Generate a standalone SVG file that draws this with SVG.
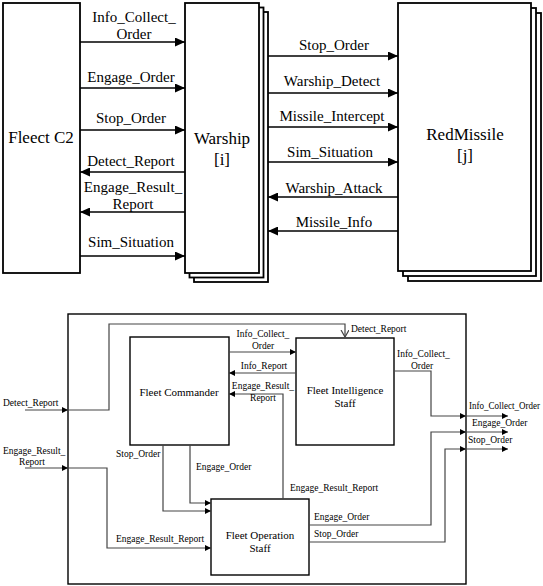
<svg xmlns="http://www.w3.org/2000/svg" width="543" height="586" viewBox="0 0 543 586">
<style>
.bg{fill:#ffffff}
.box{fill:#ffffff;stroke:#000;stroke-width:1.8}
.bbox{fill:#ffffff;stroke:#000;stroke-width:1.4}
.t{font-family:"Liberation Serif","Times New Roman",serif;fill:#000}
.big{font-size:17px}
.lbl{font-size:15px}
.sm{font-size:9.5px}
.nm{font-size:11px}
.ar{fill:none;stroke:#000;stroke-width:1.5;marker-end:url(#ah)}
.cn{fill:none;stroke:#444;stroke-width:1.2}
.ca{fill:none;stroke:#444;stroke-width:1.2;marker-end:url(#sh)}
</style>
<defs>
<marker id="ah" markerUnits="userSpaceOnUse" markerWidth="11" markerHeight="9" refX="10" refY="4.5" orient="auto">
<path d="M0,0 L10,4.5 L0,9 z" fill="#000"/>
</marker>
<marker id="sh" markerUnits="userSpaceOnUse" markerWidth="7" markerHeight="6" refX="6" refY="3" orient="auto">
<path d="M0,0 L6,3 L0,6 z" fill="#000"/>
</marker>
<marker id="vh" markerUnits="userSpaceOnUse" markerWidth="9" markerHeight="9" refX="7" refY="4" orient="auto">
<path d="M0,0 L7,4 L0,8" fill="none" stroke="#444" stroke-width="1.2"/>
</marker>
</defs>
<rect class="bg" x="0" y="0" width="543" height="586"/>

<!-- Top section -->
<g id="fleect-c2">
<rect class="box" x="3" y="3" width="77" height="270"/>
<text class="t big" x="41" y="143" text-anchor="middle">Fleect C2</text>
</g>
<g id="warship">
<rect class="box" x="194" y="12" width="74" height="270"/>
<rect class="box" x="189.5" y="7.5" width="74" height="270"/>
<rect class="box" x="185" y="3" width="74" height="270"/>
<text class="t big" x="222" y="144" text-anchor="middle">Warship</text>
<text class="t big" x="222" y="165" text-anchor="middle">[i]</text>
</g>
<g id="redmissile">
<rect class="box" x="408" y="13" width="133" height="268"/>
<rect class="box" x="403" y="8" width="133" height="268"/>
<rect class="box" x="398" y="3" width="133" height="268"/>
<text class="t big" x="465" y="140" text-anchor="middle">RedMissile</text>
<text class="t big" x="465" y="161" text-anchor="middle">[j]</text>
</g>

<g id="top-connectors">
<line class="ar" x1="80" y1="42" x2="185" y2="42"/>
<line class="ar" x1="80" y1="88" x2="185" y2="88"/>
<line class="ar" x1="80" y1="130" x2="185" y2="130"/>
<line class="ar" x1="185" y1="172" x2="80" y2="172"/>
<line class="ar" x1="185" y1="212" x2="80" y2="212"/>
<line class="ar" x1="80" y1="256" x2="185" y2="256"/>
<line class="ar" x1="268" y1="56" x2="398" y2="56"/>
<line class="ar" x1="268" y1="93" x2="398" y2="93"/>
<line class="ar" x1="268" y1="127" x2="398" y2="127"/>
<line class="ar" x1="268" y1="162" x2="398" y2="162"/>
<line class="ar" x1="398" y1="197" x2="268" y2="197"/>
<line class="ar" x1="398" y1="231" x2="268" y2="231"/>
<g class="t lbl" text-anchor="middle">
<text x="134" y="22">Info_Collect_</text>
<text x="134" y="39">Order</text>
<text x="131" y="82">Engage_Order</text>
<text x="131" y="123">Stop_Order</text>
<text x="131" y="166">Detect_Report</text>
<text x="133" y="192">Engage_Result_</text>
<text x="133" y="209">Report</text>
<text x="131" y="247">Sim_Situation</text>
<text x="334" y="50">Stop_Order</text>
<text x="332" y="86">Warship_Detect</text>
<text x="332" y="121">Missile_Intercept</text>
<text x="330" y="157">Sim_Situation</text>
<text x="334" y="193">Warship_Attack</text>
<text x="334" y="227">Missile_Info</text>
</g>
</g>

<!-- Bottom section -->
<rect id="frame" class="bbox" x="68" y="314" width="398" height="270" fill="none"/>
<g id="fleet-commander">
<rect class="bbox" x="130" y="337" width="99" height="108"/>
<text class="t nm" x="179" y="396" text-anchor="middle">Fleet Commander</text>
</g>
<g id="fleet-intelligence-staff">
<rect class="bbox" x="296" y="338" width="98" height="107"/>
<text class="t nm" x="345" y="394" text-anchor="middle">Fleet Intelligence</text>
<text class="t nm" x="345" y="407" text-anchor="middle">Staff</text>
</g>
<g id="fleet-operation-staff">
<rect class="bbox" x="211" y="499" width="98" height="76"/>
<text class="t nm" x="260" y="539" text-anchor="middle">Fleet Operation</text>
<text class="t nm" x="260" y="552" text-anchor="middle">Staff</text>
</g>

<g id="bottom-connectors">
<line class="ca" x1="25" y1="410" x2="68" y2="410"/>
<path class="cn" d="M68,410 H109 V324 H345 V337" marker-end="url(#vh)"/>
<line class="ca" x1="25" y1="468" x2="68" y2="468"/>
<path class="ca" d="M68,468 H107 V548 H211"/>
<path class="ca" d="M163,445 V511 H211"/>
<path class="ca" d="M190,445 V503 H211"/>
<line class="ca" x1="229" y1="352" x2="296" y2="352"/>
<line class="ca" x1="296" y1="373" x2="229" y2="373"/>
<path class="ca" d="M283,499 V394 H229"/>
<path class="ca" d="M394,371 H431 V416 H466"/>
<line class="ca" x1="466" y1="416" x2="508" y2="416"/>
<path class="ca" d="M309,525 H431 V432 H466"/>
<line class="ca" x1="466" y1="432" x2="508" y2="432"/>
<path class="ca" d="M309,542 H445 V449 H466"/>
<line class="ca" x1="466" y1="449" x2="508" y2="449"/>
<g class="t sm">
<text x="3" y="406">Detect_Report</text>
<text x="3" y="454">Engage_Result_</text>
<text x="32" y="465" text-anchor="middle">Report</text>
<text x="263" y="337" text-anchor="middle">Info_Collect_</text>
<text x="263" y="349" text-anchor="middle">Order</text>
<text x="264" y="369" text-anchor="middle">Info_Report</text>
<text x="263" y="389" text-anchor="middle">Engage_Result_</text>
<text x="263" y="401" text-anchor="middle">Report</text>
<text x="351" y="332">Detect_Report</text>
<text x="397" y="357">Info_Collect_</text>
<text x="422" y="369" text-anchor="middle">Order</text>
<text x="116" y="457">Stop_Order</text>
<text x="196" y="470">Engage_Order</text>
<text x="290" y="491">Engage_Result_Report</text>
<text x="116" y="542">Engage_Result_Report</text>
<text x="314" y="520">Engage_Order</text>
<text x="314" y="537">Stop_Order</text>
<text x="469" y="409" textLength="71" lengthAdjust="spacingAndGlyphs">Info_Collect_Order</text>
<text x="472" y="426">Engage_Order</text>
<text x="468" y="443">Stop_Order</text>
</g>
</g>
</svg>
